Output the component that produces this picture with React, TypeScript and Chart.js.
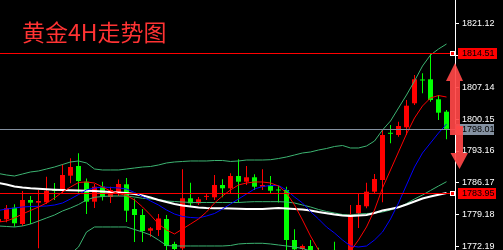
import React, { useEffect, useRef } from 'react';
import { Chart, registerables } from 'chart.js';

Chart.register(...registerables);

const title = '黄金4H走势图';

const opens = [
  1777.62, 1778.21, 1780.75, 1777.18, 1782.44, 1781.85, 1781.93, 1784.63, 1784.47, 1787.76,
  1789.88, 1786.44, 1782.07, 1785.35, 1783.09, 1783.97, 1785.87, 1780.47, 1779.15, 1775.72,
  1775.87, 1778.28, 1772.81, 1771.86, 1782.81, 1781.71, 1783.12, 1783.03, 1785.72, 1785.0,
  1787.69, 1786.44, 1787.41, 1785.35, 1785.72, 1784.74, 1784.63, 1773.68, 1771.71, 1772.37,
  1771.0, 1769.0, 1771.5, 1769.0, 1768.0, 1779.53, 1781.06, 1784.26, 1786.82, 1797.1,
  1796.67, 1798.35, 1803.61, 1808.77, 1808.86, 1804.48, 1801.77,
];
const highs = [
  1778.6, 1781.34, 1781.5, 1784.41, 1783.31, 1784.63, 1787.54, 1786.16, 1790.25, 1791.57,
  1792.66, 1787.14, 1785.94, 1786.44, 1785.35, 1786.93, 1787.26, 1782.77, 1780.47, 1776.53,
  1779.37, 1779.15, 1773.31, 1789.16, 1786.23, 1783.09, 1783.75, 1787.91, 1786.97, 1788.28,
  1791.35, 1789.88, 1788.06, 1789.16, 1787.69, 1785.61, 1785.35, 1776.02, 1772.7, 1773.68,
  1772.0, 1771.0, 1773.31, 1770.5, 1781.34, 1783.75, 1786.23, 1788.13, 1797.92, 1798.86,
  1799.58, 1804.33, 1809.8, 1810.17, 1814.51, 1805.42, 1802.14,
];
const lows = [
  1777.2, 1777.56, 1776.59, 1776.75, 1777.18, 1771.86, 1781.56, 1782.44, 1783.75, 1786.09,
  1784.0, 1779.37, 1780.69, 1782.33, 1781.78, 1783.31, 1777.62, 1773.24, 1773.24, 1774.41,
  1774.56, 1771.0, 1770.8, 1770.8, 1780.97, 1781.34, 1782.44, 1782.44, 1783.03, 1783.91,
  1781.85, 1785.72, 1784.63, 1784.63, 1783.91, 1781.89, 1770.5, 1770.3, 1771.27, 1769.8,
  1767.5, 1767.0, 1766.5, 1765.5, 1766.5, 1776.31, 1780.62, 1783.91, 1781.96, 1794.85,
  1796.3, 1796.67, 1803.24, 1805.8, 1803.96, 1799.95, 1795.73,
];
const closes = [
  1778.28, 1780.62, 1777.34, 1782.44, 1781.85, 1782.22, 1784.47, 1784.41, 1787.91, 1789.66,
  1786.6, 1782.07, 1785.35, 1783.16, 1784.63, 1785.94, 1780.1, 1779.15, 1775.65, 1776.24,
  1778.39, 1772.37, 1771.71, 1782.81, 1781.71, 1782.59, 1783.2, 1785.72, 1785.0, 1787.69,
  1786.44, 1787.41, 1785.35, 1785.72, 1784.47, 1784.52, 1773.68, 1771.64, 1772.37, 1770.8,
  1769.0, 1770.2, 1769.0, 1768.0, 1779.31, 1781.34, 1784.26, 1787.04, 1796.67, 1796.93,
  1798.64, 1803.08, 1808.86, 1808.6, 1804.33, 1801.55, 1798.01,
];

const bbUpper = [
  1788.24, 1787.91, 1787.69, 1788.13, 1788.57, 1788.79, 1789.22, 1789.66, 1790.21, 1790.76,
  1790.98, 1790.54, 1789.22, 1789.01, 1789.01, 1789.01, 1789.22, 1789.44, 1789.66, 1789.77,
  1790.1, 1790.54, 1790.76, 1790.87, 1790.98, 1790.98, 1790.98, 1791.08, 1791.08, 1790.87,
  1790.98, 1791.19, 1791.19, 1791.19, 1791.26, 1791.52, 1791.85, 1792.29, 1792.73, 1792.95,
  1793.38, 1793.71, 1794.15, 1794.37, 1793.82, 1793.82, 1794.26, 1795.35, 1797.76, 1799.73,
  1802.58, 1805.42, 1808.49, 1811.77, 1814.18, 1815.49, 1816.59,
];
const bbMiddle = [
  1776.75, 1776.64, 1776.53, 1776.75, 1777.18, 1777.84, 1778.5, 1779.15, 1780.03, 1780.69,
  1781.45, 1782.44, 1783.03, 1783.2, 1783.31, 1783.31, 1783.31, 1783.09, 1782.81, 1782.66,
  1782.55, 1782.22, 1782.11, 1782.0, 1781.89, 1781.89, 1781.89, 1781.89, 1781.89, 1781.89,
  1781.89, 1782.0, 1782.07, 1782.07, 1782.07, 1782.07, 1782.0, 1781.78, 1781.34, 1780.91,
  1780.36, 1779.92, 1779.59, 1779.26, 1779.15, 1779.37, 1779.48, 1779.59, 1779.81, 1780.25,
  1780.8, 1781.67, 1782.66, 1783.53, 1784.52, 1785.5, 1786.44,
];
const bbLower = [
  1765.58, 1765.36, 1765.36, 1765.36, 1765.8, 1766.89, 1767.77, 1768.65, 1769.74, 1770.62,
  1772.15, 1775.43, 1776.53, 1776.53, 1776.53, 1776.53, 1776.53, 1775.98, 1775.43, 1774.78,
  1773.68, 1772.48, 1772.37, 1772.37, 1772.37, 1772.37, 1772.37, 1772.37, 1772.37, 1772.48,
  1772.81, 1772.92, 1772.96, 1772.96, 1772.81, 1772.59, 1772.37, 1772.15, 1771.82, 1771.27,
  1767.33, 1766.01, 1764.92, 1764.26, 1764.48, 1764.92, 1764.7, 1763.82, 1761.85, 1760.76,
  1759.01, 1757.92, 1756.82, 1755.29, 1754.85, 1755.51, 1756.39,
];
const maLong = [
  1786.16, 1785.83, 1785.39, 1785.17, 1785.0, 1784.89, 1784.78, 1784.69, 1784.63, 1784.56,
  1784.52, 1784.47, 1784.41, 1784.3, 1784.19, 1784.08, 1783.97, 1783.75, 1783.42, 1782.99,
  1782.44, 1782.0, 1781.56, 1781.23, 1781.01, 1780.8, 1780.69, 1780.62, 1780.62, 1780.58,
  1780.51, 1780.47, 1780.47, 1780.47, 1780.58, 1780.69, 1780.58, 1780.47, 1780.36, 1780.14,
  1779.81, 1779.53, 1779.26, 1779.05, 1778.94, 1779.05, 1779.15, 1779.59, 1780.14, 1780.47,
  1780.84, 1781.45, 1782.11, 1782.77, 1783.2, 1783.6, 1783.95,
];
const ma10 = [
  1780.14, 1780.47, 1780.69, 1780.91, 1781.01, 1781.06, 1781.12, 1781.34, 1781.78, 1782.66,
  1783.64, 1784.63, 1785.07, 1785.28, 1785.17, 1785.07, 1784.85, 1784.08, 1783.2, 1782.22,
  1781.34, 1780.25, 1779.37, 1778.83, 1778.61, 1778.5, 1778.94, 1779.48, 1780.47, 1781.56,
  1782.66, 1783.75, 1784.85, 1785.39, 1785.61, 1785.61, 1784.63, 1783.09, 1781.78, 1779.92,
  1778.28, 1776.53, 1775.21, 1773.68, 1772.37, 1772.15, 1772.37, 1773.68, 1775.43, 1778.28,
  1781.78, 1785.72, 1789.66, 1792.73, 1794.92, 1797.1, 1799.07,
];
const ma5 = [
  1777.62, 1777.84, 1778.5, 1779.37, 1780.14, 1780.91, 1781.78, 1782.88, 1784.19, 1785.28,
  1786.27, 1786.38, 1786.16, 1785.28, 1784.41, 1783.86, 1783.42, 1782.44, 1780.91, 1779.15,
  1777.18, 1775.87, 1775.0, 1776.09, 1777.18, 1778.28, 1779.81, 1781.78, 1783.31, 1784.63,
  1785.72, 1786.16, 1786.38, 1786.38, 1786.16, 1785.5, 1783.97, 1781.34, 1778.06, 1774.56,
  1771.49, 1769.74, 1768.65, 1768.87, 1771.27, 1773.68, 1776.53, 1780.25, 1785.07, 1789.01,
  1792.95, 1796.89, 1800.39, 1803.02, 1804.77, 1805.31, 1804.98,
];

const tickValues = [1772.19, 1779.18, 1786.17, 1793.16, 1800.15, 1807.14, 1814.13, 1821.12];
const tickLabels = ['1772.19', '1779.18', '1786.17', '1793.16', '1800.15', '1807.14', '1814.13', '1821.12'];

const highLine = 1814.51;
const lowLine = 1783.95;
const lastPrice = 1798.01;

// arrow annotation values (price levels)
const upArrow = { tip: 1812.43, headBase: 1808.49, tail: 1796.67 };
const downArrow = { tail: 1798.64, headBase: 1792.73, tip: 1789.22 };

const UP = '#ff0000';
const DOWN = '#00ff00';
const BAND = '#3cb371';
const AXIS_FONT = '9px "Liberation Sans", Arial, sans-serif';

export default function App() {
  const ref = useRef<HTMLCanvasElement>(null);

  useEffect(() => {
    const canvas = ref.current!;
    const idx = opens.map((_, i) => i);
    const colorFor = (c: any) => (closes[c.dataIndex] >= opens[c.dataIndex] ? UP : DOWN);
    const line = (label: string, values: number[], color: string, width: number, order: number) => ({
      type: 'line' as const,
      label,
      data: values.map((v, i) => ({ x: i, y: v })),
      borderColor: color,
      borderWidth: width,
      pointRadius: 0,
      tension: 0,
      fill: false,
      order,
    });

    const overlay = {
      id: 'overlay',
      afterDatasetsDraw(chart: any) {
        const { ctx, chartArea: ca, scales } = chart;
        const y = scales.y;
        ctx.save();
        const hl = (v: number, color: string) => {
          const py = Math.round(y.getPixelForValue(v)) + 0.5;
          ctx.strokeStyle = color;
          ctx.lineWidth = 1;
          ctx.beginPath();
          ctx.moveTo(ca.left, py);
          ctx.lineTo(ca.right, py);
          ctx.stroke();
        };
        hl(lastPrice, '#8491a1');
        hl(highLine, '#ff0000');
        hl(lowLine, '#ff0000');
        ctx.restore();
      },
      afterDraw(chart: any) {
        const { ctx, chartArea: ca, scales } = chart;
        const y = scales.y;
        const py = (v: number) => y.getPixelForValue(v);
        ctx.save();
        // end markers
        for (const v of [highLine, lowLine]) {
          const yy = Math.round(py(v));
          ctx.fillStyle = '#ffffff';
          ctx.fillRect(ca.right - 5, yy - 2, 5, 5);
          ctx.fillStyle = '#ff0000';
          ctx.fillRect(ca.right - 4, yy - 1, 3, 3);
        }
        // price labels
        const label = (v: number, bg: string, fg: string, x0: number, x1: number) => {
          const yy = Math.round(py(v));
          ctx.fillStyle = bg;
          ctx.fillRect(x0, yy - 5, x1 - x0, 11);
          ctx.fillStyle = fg;
          ctx.font = AXIS_FONT;
          ctx.textBaseline = 'middle';
          ctx.textAlign = 'left';
          ctx.fillText(v.toFixed(2), ca.right + 7, yy + 0.5);
        };
        label(lastPrice, '#8491a1', '#000000', ca.right, ca.right + 39);
        label(highLine, '#ff0000', '#000000', ca.right + 3, ca.right + 42);
        label(lowLine, '#ff0000', '#000000', ca.right + 3, ca.right + 41);
        // title
        ctx.font = '23px "Noto Sans CJK SC", sans-serif';
        ctx.fillStyle = '#ff3333';
        ctx.textBaseline = 'alphabetic';
        ctx.textAlign = 'left';
        ctx.fillText(title, 22, 40.5);
        // arrows
        ctx.fillStyle = 'rgba(255,70,70,0.92)';
        const ux = ca.right;
        ctx.beginPath();
        ctx.moveTo(ux, py(upArrow.tip));
        ctx.lineTo(ux + 8, py(upArrow.headBase));
        ctx.lineTo(ux + 5, py(upArrow.headBase));
        ctx.lineTo(ux + 5, py(upArrow.tail));
        ctx.lineTo(ux - 5, py(upArrow.tail));
        ctx.lineTo(ux - 5, py(upArrow.headBase));
        ctx.lineTo(ux - 9, py(upArrow.headBase));
        ctx.closePath();
        ctx.fill();
        const dx = ca.right + 4.5;
        ctx.beginPath();
        ctx.moveTo(dx - 3.5, py(downArrow.tail));
        ctx.lineTo(dx + 3.5, py(downArrow.tail));
        ctx.lineTo(dx + 3.5, py(downArrow.headBase));
        ctx.lineTo(dx + 8.5, py(downArrow.headBase));
        ctx.lineTo(dx, py(downArrow.tip));
        ctx.lineTo(dx - 9, py(downArrow.headBase));
        ctx.lineTo(dx - 3.5, py(downArrow.headBase));
        ctx.closePath();
        ctx.fill();
        ctx.restore();
      },
    };

    const chart = new Chart(canvas, {
      type: 'bar',
      data: {
        datasets: [
          {
            type: 'bar',
            label: 'wick',
            data: idx.map((i) => ({ x: i, y: [lows[i], highs[i]] })) as any,
            backgroundColor: colorFor,
            barThickness: 1,
            grouped: false,
            minBarLength: 1,
            borderWidth: 0,
            inflateAmount: 0,
            order: 20,
          } as any,
          {
            type: 'bar',
            label: 'body',
            data: idx.map((i) => ({ x: i, y: [opens[i], closes[i]] })) as any,
            backgroundColor: colorFor,
            barThickness: 5,
            grouped: false,
            minBarLength: 1,
            borderWidth: 0,
            inflateAmount: 0,
            order: 19,
          } as any,
          line('BB upper', bbUpper, BAND, 1, 6),
          line('BB middle', bbMiddle, BAND, 1, 5),
          line('BB lower', bbLower, BAND, 1, 4),
          line('MA long', maLong, '#ffffff', 2, 3),
          line('MA10', ma10, '#0000ff', 1, 2),
          line('MA5', ma5, '#ff0000', 1, 1),
        ],
      },
      options: {
        responsive: false,
        animation: false,
        events: [],
        layout: { padding: 0 },
        plugins: {
          legend: { display: false },
          tooltip: { enabled: false },
          title: { display: false },
        },
        scales: {
          x: { type: 'linear', display: false, offset: false, min: 0.1875, max: 57.0625 },
          y: {
            type: 'linear',
            position: 'right',
            min: 1771.49,
            max: 1826.22,
            afterBuildTicks: (s: any) => {
              s.ticks = tickValues.map((v) => ({ value: v }));
            },
            afterFit: (s: any) => {
              s.width = 48;
              s.paddingTop = 0;
              s.paddingBottom = 0;
            },
            grid: {
              drawOnChartArea: false,
              drawTicks: true,
              tickLength: 4,
              color: '#ffffff',
              tickColor: '#ffffff',
            },
            border: { display: true, color: '#ffffff', width: 1 },
            ticks: {
              color: '#ffffff',
              font: { family: '"Liberation Sans", Arial, sans-serif', size: 9 },
              padding: 3,
              autoSkip: false,
              callback: (_v: any, i: number) => tickLabels[i],
            },
          } as any,
        },
      } as any,
      plugins: [overlay],
    });
    return () => chart.destroy();
  }, []);

  return (
    <div style={{ position: 'fixed', left: 0, top: 0, width: 503, height: 250, background: '#000' }}>
      <canvas ref={ref} width={503} height={250} style={{ display: 'block' }} />
    </div>
  );
}
